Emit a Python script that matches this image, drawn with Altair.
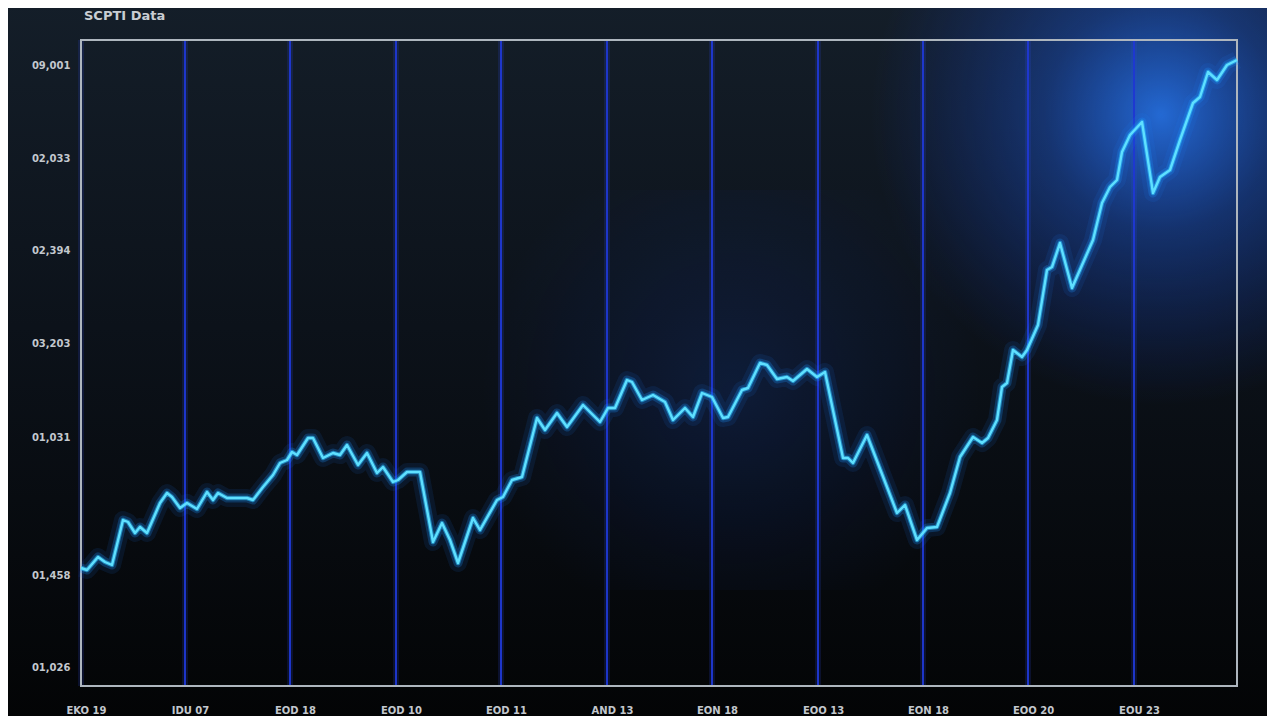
import altair as alt
import pandas as pd

# ---- data ----
day = [0, 6, 17, 24, 31, 42, 47, 54, 59, 66, 79, 86, 91, 99, 106, 116, 126, 132, 137, 146,
       166, 172, 182, 192, 199, 206, 211, 216, 227, 232, 242, 252, 259, 266, 277, 286, 296, 302,
       312, 317, 326, 339, 352, 361, 369, 377, 392, 399, 416, 422, 431, 441, 456, 464, 476, 486,
       502, 519, 527, 534, 546, 551, 561, 572, 584, 592, 604, 612, 621, 631, 642, 647, 661, 667,
       679, 686, 696, 706, 712, 726, 736, 744, 762, 767, 772, 786, 816, 824, 836, 846, 856, 869,
       879, 892, 901, 907, 916, 921, 926, 932, 941, 946, 957, 966, 971, 979, 991, 1012, 1021,
       1029, 1036, 1041, 1049, 1061, 1072, 1079, 1089, 1099, 1112, 1119, 1127, 1136, 1146, 1156]
price = [118, 116, 129, 124, 121, 166, 164, 153, 159, 153, 183, 193, 189, 178, 183, 177, 194,
         186, 193, 188, 188, 186, 199, 211, 223, 226, 234, 231, 248, 248, 228, 233, 231, 241, 221,
         233, 213, 219, 204, 206, 214, 214, 144, 163, 146, 123, 168, 156, 186, 189, 206, 209, 268,
         256, 273, 259, 281, 264, 278, 278, 306, 304, 286, 291, 284, 266, 278, 269, 293, 289, 268,
         269, 296, 298, 323, 321, 307, 309, 305, 317, 309, 314, 228, 228, 223, 251, 173, 181, 146,
         158, 159, 193, 229, 249, 243, 248, 266, 299, 303, 336, 329, 336, 361, 416, 419, 443, 398,
         446, 483, 499, 506, 534, 551, 564, 493, 509, 516, 546, 583, 589, 614, 606, 621, 626]

x_ticks = [0, 104, 209, 315, 420, 526, 631, 737, 842, 947, 1053]
x_labels = ["EKO 19", "IDU 07", "EOD 18", "EOD 10", "EOD 11", "AND 13",
            "EON 18", "EOO 13", "EON 18", "EOO 20", "EOU 23"]
y_ticks = [621, 528, 436, 343, 249, 111, 19]
y_labels = ["09,001", "02,033", "02,394", "03,203", "01,031", "01,458", "01,026"]
title_text = "SCPTI Data"

W, H = 1156, 646
df = pd.DataFrame({"day": day, "price": price})
grid_df = pd.DataFrame({"day": x_ticks})
one = pd.DataFrame({"k": [0]})


def label_expr(vals, labs):
    parts = " : ".join(f"datum.value == {v} ? '{l}'" for v, l in zip(vals, labs))
    return parts + " : ''"


xscale = alt.Scale(domain=[0, W], nice=False, zero=False)
yscale = alt.Scale(domain=[0, H], nice=False, zero=False)

x_enc = alt.X("day:Q", scale=xscale, title=None,
              axis=alt.Axis(values=x_ticks, labelExpr=label_expr(x_ticks, x_labels),
                            grid=False, domain=False, ticks=False, labelPadding=19,
                            labelFontSize=10, labelFontWeight="bold", labelColor="#c3c8ce",
                            labelFont="DejaVu Sans", zindex=1, labelFlush=False, labelOffset=5))
y_enc = alt.Y("price:Q", scale=yscale, title=None,
              axis=alt.Axis(values=y_ticks, labelExpr=label_expr(y_ticks, y_labels),
                            grid=False, domain=False, ticks=False, labelPadding=11,
                            labelFontSize=10, labelFontWeight="bold", labelColor="#c3c8ce",
                            labelFont="DejaVu Sans", zindex=1))

bg = alt.Chart(one).mark_rect(
    fill=alt.LinearGradient(gradient="linear", x1=0, y1=0, x2=0, y2=1, stops=[
        alt.GradientStop(color="#141e29", offset=0),
        alt.GradientStop(color="#0c121a", offset=0.45),
        alt.GradientStop(color="#030405", offset=1)])
).encode(x=alt.value(-80), x2=alt.value(W + 60), y=alt.value(-40), y2=alt.value(H + 40))

glow_tr = alt.Chart(one).mark_rect(
    fill=alt.RadialGradient(gradient="radial", x1=0.5, y1=0.5, r1=0, x2=0.5, y2=0.5, r2=0.5, stops=[
        alt.GradientStop(color="rgba(40,125,255,0.8)", offset=0),
        alt.GradientStop(color="rgba(30,95,235,0.38)", offset=0.4),
        alt.GradientStop(color="rgba(20,60,200,0)", offset=1)])
).encode(x=alt.value(790), x2=alt.value(1370), y=alt.value(-215), y2=alt.value(365))

glow_mid = alt.Chart(one).mark_rect(
    fill=alt.RadialGradient(gradient="radial", x1=0.5, y1=0.5, r1=0, x2=0.5, y2=0.5, r2=0.5, stops=[
        alt.GradientStop(color="rgba(30,90,230,0.16)", offset=0),
        alt.GradientStop(color="rgba(20,60,200,0)", offset=1)])
).encode(x=alt.value(400), x2=alt.value(900), y=alt.value(150), y2=alt.value(550))

grid_glow = alt.Chart(grid_df).mark_rule(color="#2a46e0", strokeWidth=6, opacity=0.18).encode(
    x=alt.X("day:Q", scale=xscale), y=alt.value(0), y2=alt.value(H))
grid = alt.Chart(grid_df).mark_rule(color="#1f38d2", strokeWidth=2, opacity=0.95).encode(
    x=alt.X("day:Q", scale=xscale), y=alt.value(0), y2=alt.value(H))

border = alt.Chart(one).mark_rect(fill=None, fillOpacity=0, stroke="#aeb6be", strokeWidth=2).encode(
    x=alt.value(0), x2=alt.value(W), y=alt.value(0), y2=alt.value(H))

title = alt.Chart(one).mark_text(
    text=title_text, font="DejaVu Sans", fontSize=13, fontWeight="bold", color="#c9ced3",
    align="left", baseline="middle"
).encode(x=alt.value(3), y=alt.value(-24))

base = alt.Chart(df)
l1 = base.mark_line(color="#1f7dff", strokeWidth=18, opacity=0.10, strokeJoin="round").encode(x=x_enc, y=y_enc)
l2 = base.mark_line(color="#1c95ff", strokeWidth=9, opacity=0.25, strokeJoin="round").encode(x=x_enc, y=y_enc)
l3 = base.mark_line(color="#2cc0ff", strokeWidth=4.5, opacity=0.55, strokeJoin="round").encode(x=x_enc, y=y_enc)
l4 = base.mark_line(color="#5fe0ff", strokeWidth=2.4, strokeJoin="round").encode(x=x_enc, y=y_enc)

chart = alt.layer(bg, glow_mid, glow_tr, grid_glow, grid, border, title, l1, l2, l3, l4).properties(
    width=W, height=H,
    autosize=alt.AutoSizeParams(type="none"),
    padding={"left": 73, "top": 32, "right": 30, "bottom": 30},
).configure(background="#0c121a").configure_view(stroke=None)

chart.save("out.html", embed_options={"renderer": "svg", "actions": False})
